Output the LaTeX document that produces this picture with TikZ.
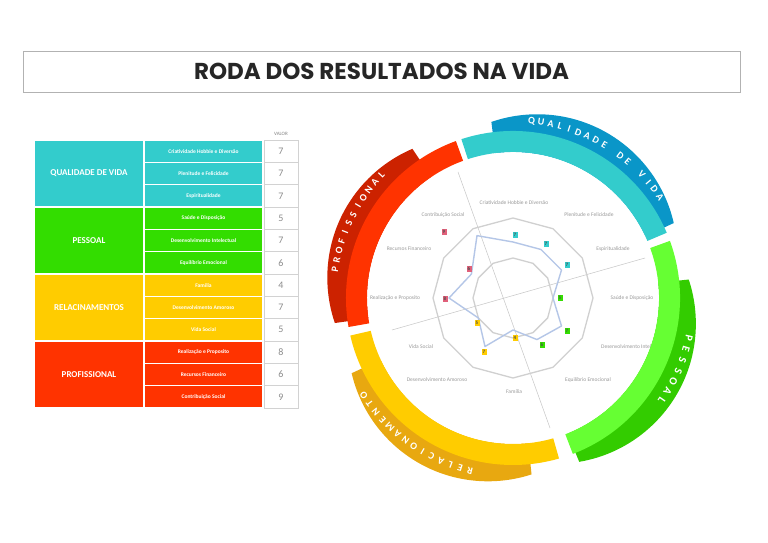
\documentclass[tikz,border=0pt]{standalone}
\usepackage{fontspec}
\setmainfont{Carlito}
\newfontfamily\titlefont{Poppins}
\definecolor{qcol}{HTML}{33CCCC}\definecolor{qdark}{HTML}{0A96C8}
\definecolor{pcol}{HTML}{33DD00}\definecolor{pband}{HTML}{66FF33}\definecolor{pdark}{HTML}{33CC00}
\definecolor{rcol}{HTML}{FFCC00}\definecolor{rdark}{HTML}{E8A810}
\definecolor{fcol}{HTML}{FF3300}\definecolor{fdark}{HTML}{CC2200}
\definecolor{fpink}{HTML}{E0607A}
\definecolor{gridc}{HTML}{D0D0D0}\definecolor{radar}{HTML}{B4C6E7}
\tikzset{
 catcell/.style={draw=white,line width=1.5pt},
 valcell/.style={draw=gray!35,line width=0.6pt,fill=white},
 axlab/.style={font=\fontsize{5.5}{6}\selectfont,text=gray!80},
 vbox/.style={font=\fontsize{5}{5}\selectfont\bfseries,text=black!70,inner sep=1pt,minimum width=5pt,minimum height=6pt},
 lobeletter/.style={font=\fontsize{10}{10}\selectfont\bfseries,text=white,inner sep=0pt,anchor=base}
}
\begin{document}
\begin{tikzpicture}[x=1pt,y=1pt]
\useasboundingbox (0,0) rectangle (768,543);
% title
\node[draw=gray!60,line width=0.6pt,minimum width=717pt,minimum height=41pt,inner sep=0pt] (title) at (381.5,471.5)
 {\titlefont\bfseries\fontsize{23}{23}\selectfont\color{black!85}RODA DOS RESULTADOS NA VIDA};
% table
\def\h{22.33}
\node[font=\fontsize{5}{5}\selectfont,text=gray] (valor) at (281,409) {VALOR};
\foreach \i/\nm/\v/\c in {0/Criatividade Hobbie e Diversão/7/qcol,1/Plenitude e Felicidade/7/qcol,2/Espiritualidade/7/qcol,
 3/Saúde e Disposição/5/pcol,4/Desenvolvimento Intelectual/7/pcol,5/Equilíbrio Emocional/6/pcol,
 6/Família/4/rcol,7/Desenvolvimento Amoroso/7/rcol,8/Vida Social/5/rcol,
 9/Realização e Proposito/8/fcol,10/Recursos Financeiro/6/fcol,11/Contribuição Social/9/fcol}{
 \pgfmathsetmacro\yt{403-\i*\h}\pgfmathsetmacro\yb{\yt-\h}
 \fill[\c] (144,\yb) rectangle (263,\yt);
 \draw[white,line width=1.5pt] (144,\yb) rectangle (263,\yt);
 \node[font=\fontsize{5.5}{6}\selectfont\bfseries,text=white] (s\i) at (203.5,{(\yt+\yb)/2}) {\nm};
 \draw[valcell] (264,\yb) rectangle (298,\yt);
 \node[font=\fontsize{10}{10}\selectfont,text=gray!90] (v\i) at (281,{(\yt+\yb)/2}) {\v};
}
\foreach \k/\nm/\c in {0/QUALIDADE DE VIDA/qcol,1/PESSOAL/pcol,2/RELACINAMENTOS/rcol,3/PROFISSIONAL/fcol}{
 \pgfmathsetmacro\yt{403-\k*3*\h}\pgfmathsetmacro\yb{\yt-3*\h}
 \fill[\c] (34,\yb) rectangle (144,\yt);
 \draw[catcell] (34,\yb) rectangle (144,\yt);
 \node[font=\fontsize{9}{9}\selectfont\bfseries,text=white] (c\k) at (89,{(\yt+\yb)/2}) {\nm};
}
% wheel
\begin{scope}[shift={(513,245)}]
 \coordinate (C) at (0,0);
 \foreach \a/\b/\m/\c in {97/25/61/qdark,6/-68/-31/pdark,-84/-155/-120/rdark,188/124/156/fdark}{
  \begin{scope}
   \clip (0,0) -- (\a:260) arc[start angle=\a,end angle=\b,radius=260] -- cycle;
   \fill[\c] (\m:50) circle[radius=140];
  \end{scope}
 }
 \fill[white] (0,0) circle[radius=146];
 \draw[gray!45,line width=0.5pt] (-55,126) -- (37,-130);
 \draw[gray!45,line width=0.5pt] (-121,-32) -- (132,40);
 \draw[gridc,line width=1.3pt] (90:80) \foreach \t in {60,30,...,-240}{ -- (\t:80)} -- cycle;
 \draw[gridc,line width=1.3pt] (90:40) \foreach \t in {60,30,...,-240}{ -- (\t:40)} -- cycle;
 \draw[radar,line width=1.4pt,line join=round] (90:56) -- (60:56) -- (30:56) -- (0:40) -- (-30:56) -- (-60:48) -- (-90:32) -- (-120:56) -- (-150:40) -- (180:64) -- (150:48) -- (120:72) -- cycle;
 \foreach \x/\y/\t in {1/95/Criatividade Hobbie e Diversão,76/83/Plenitude e Felicidade,100/49/Espiritualidade,119/0/Saúde e Disposição,
  120/-49/Desenvolvimento Intelectual,75/-82/Equilíbrio Emocional,1/-94/Família,-76/-82/Desenvolvimento Amoroso,-92/-49/Vida Social,
  -118/0/Realização e Proposito,-104/49/Recursos Financeiro,-70/83/Contribuição Social}
  \node[axlab] at (\x,\y) {\t};
 \foreach \x/\y/\v/\c in {-69/66/9/fpink,2/63/7/qcol,33/54/7/qcol,54/33/7/qcol,47/0/5/pcol,54/-33/7/pcol,29/-47/6/pcol,
  2/-40/4/rcol,-29/-54/7/rcol,-36/-25/5/rcol,-68/-1/8/fpink,-44/29/6/fpink}
  \node[vbox,fill=\c] at (\x,\y) {\v};
 \foreach \a/\b/\c in {108/23/qcol,20/-69/pband,-74/-167/rcol,190/110/fcol}{
  \fill[\c] (\a:146) arc[start angle=\a,end angle=\b,radius=146] -- (\b:167) arc[start angle=\b,end angle=\a,radius=167] -- cycle;
 }
 \foreach \L [count=\n from 0] in {Q,U,A,L,I,D,A,D,E,~,D,E,~,V,I,D,A}
  \node[lobeletter,rotate={84-\n*3.1-90}] at ({84-\n*3.1}:175) {\L};
 \foreach \L [count=\n from 0] in {P,E,S,S,O,A,L}
  \node[lobeletter,font=\fontsize{11}{11}\selectfont\bfseries,rotate={-13-\n*3.6-90}] at ({-13-\n*3.6}:177) {\L};
 \foreach \L [count=\n from 0] in {R,E,L,A,C,I,O,N,A,M,E,N,T,O}
  \node[lobeletter,rotate={-104-\n*3.3-90}] at ({-104-\n*3.3}:175) {\L};
 \foreach \L [count=\n from 0] in {P,R,O,F,I,S,S,I,O,N,A,L}
  \node[lobeletter,rotate={171-\n*3.1-90}] at ({171-\n*3.1}:177) {\L};
\end{scope}
\end{tikzpicture}
\end{document}
